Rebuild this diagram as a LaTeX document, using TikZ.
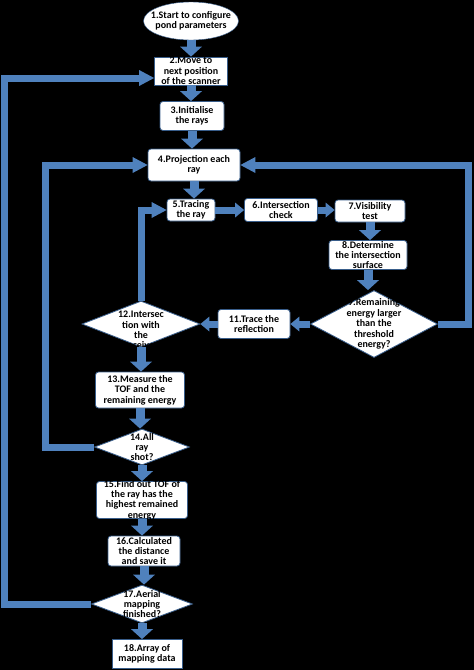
\documentclass[tikz,border=0pt]{standalone}
\usepackage{fontspec}
\setmainfont{Carlito}
\usetikzlibrary{shapes.geometric,arrows.meta}
\definecolor{flowblue}{RGB}{79,129,189}
\definecolor{rimblue}{RGB}{56,93,138}

\begin{document}
\begin{tikzpicture}[x=1pt,y=-1pt,
  txt/.style={font=\bfseries\fontsize{10}{10.4}\selectfont,align=center,text=black},
  stepbox/.style={draw=rimblue,fill=white,thick,rounded corners=3pt,inner sep=0pt},
  sqbox/.style={draw=rimblue,fill=white,thick,inner sep=0pt},
  decide/.style={diamond,draw=rimblue,fill=white,thick,inner sep=0pt},
  down/.style={flowblue,line width=9pt,-{Triangle[length=10pt,width=22pt,line width=0pt]}},
  side/.style={flowblue,line width=7pt,-{Triangle[length=9pt,width=15pt,line width=0pt]}},
  back/.style={flowblue,line width=7pt,-{Triangle[length=15pt,width=16pt,line width=0pt]}}]
\fill[black] (0,0) rectangle (474,670);

% main column
\node[ellipse,draw=rimblue,fill=white,inner sep=0pt,minimum width=95pt,minimum height=38pt,
  label={[txt]center:1.Start to configure\\pond parameters}] (S1) at (191,21) {};
\node[sqbox,minimum width=73pt,minimum height=28pt,
  label={[txt]center:2.Move to\\next position\\of the scanner}] (S2) at (191,71) {};
\node[stepbox,minimum width=64pt,minimum height=29pt,
  label={[txt]center:3.Initialise\\the rays}] (S3) at (192,116) {};
\node[stepbox,minimum width=92pt,minimum height=32pt,
  label={[txt]center:4.Projection each\\ray}] (S4) at (194,165) {};
\node[stepbox,minimum width=48pt,minimum height=22pt,
  label={[txt]center:5.Tracing\\the ray}] (S5) at (191,210) {};
\node[stepbox,minimum width=73pt,minimum height=23pt,
  label={[txt]center:6.Intersection\\check}] (S6) at (281,210) {};
\node[stepbox,minimum width=70pt,minimum height=22pt,
  label={[txt]center:7.Visibility\\test}] (S7) at (370,211) {};
\node[stepbox,minimum width=78pt,minimum height=29pt,
  label={[txt]center:8.Determine\\the intersection\\surface}] (S8) at (368,255) {};
\node[decide,minimum width=127pt,minimum height=67pt,
  label={[txt]center:9.Remaining\\energy larger\\than the\\threshold\\energy?}] (S9) at (374,324) {};
\node[stepbox,minimum width=72pt,minimum height=29pt,
  label={[txt]center:11.Trace the\\reflection}] (S11) at (254,324) {};
\node[decide,minimum width=118pt,minimum height=46pt,
  label={[txt,yshift=-6pt]center:12.Intersec\\tion with\\the\\receiver}] (S12) at (141,324) {};
\node[stepbox,minimum width=89pt,minimum height=36pt,
  label={[txt]center:13.Measure the\\TOF and the\\remaining energy}] (S13) at (140,390) {};
\node[decide,minimum width=95pt,minimum height=36pt,
  label={[txt]center:14.All\\ray\\shot?}] (S14) at (142,447) {};
\node[stepbox,minimum width=91pt,minimum height=37pt,
  label={[txt]center:15.Find out TOF of\\the ray has the\\highest remained\\energy}] (S15) at (142,500) {};
\node[stepbox,minimum width=72pt,minimum height=30pt,
  label={[txt]center:16.Calculated\\the distance\\and save it}] (S16) at (144,551) {};
\node[decide,minimum width=101pt,minimum height=38pt,
  label={[txt]center:17.Aerial\\mapping\\finished?}] (S17) at (142,604) {};
\node[sqbox,minimum width=70pt,minimum height=29pt,
  label={[txt]center:18.Array of\\mapping data}] (S18) at (147,654) {};

% straight flow
\draw[down] (S1.south) -- (S1.south |- S2.north);
\draw[down] (S2.south) -- (S2.south |- S3.north);
\draw[down] (S3.south) -- (S3.south |- S4.north);
\draw[down] (S4.south) -- (S4.south |- S5.north);
\draw[side] (S5.east) -- (S6.west);
\draw[side] (S6.east) -- (S6.east -| S7.west);
\draw[down] (S7.south) -- (S7.south |- S8.north);
\draw[down] (S8.south) -- (S8.south |- S9.north);
\draw[side] (S9.west) -- (S11.east);
\draw[side] (S11.west) -- (S12.east);
\draw[down] (S12.south) -- (S12.south |- S13.north);
\draw[down] (S13.south) -- (S13.south |- S14.north);
\draw[down] (S14.south) -- (S14.south |- S15.north);
\draw[down] (S15.south) -- (S15.south |- S16.north);
\draw[down] (S16.south) -- (S16.south |- S17.north);
\draw[down] (S17.south) -- (S17.south |- S18.north);

% loops back
\draw[back] (S17.west) -- ++(-87,0) |- ([yshift=-7pt]S2.west);
\draw[back] (S14.west) -- ++(-49,0) |- (S4.west);
\draw[back] (S9.east) -- ++(31,0) |- (S4.east);
\draw[back] (S12.north) |- (S5.west);
\end{tikzpicture}
\end{document}
